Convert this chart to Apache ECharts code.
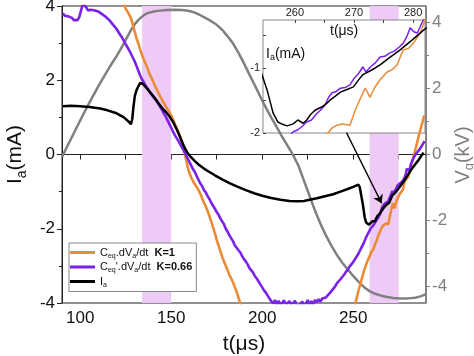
<!DOCTYPE html>
<html><head><meta charset="utf-8">
<script src="https://cdn.jsdelivr.net/npm/echarts@6/dist/echarts.min.js"></script>
<style>html,body{margin:0;padding:0;background:#fff}#c{width:474px;height:356px}</style>
</head><body><div id="c"></div>
<script>
// ---- tick labels ----
const tLabels = [100, 150, 200, 250];
const tTicks = [100, 125, 150, 175, 200, 225, 250, 275];
const insetTLabels = [260, 270, 280];
const insetTTicks = [260, 265, 270, 275, 280];
const insetILabels = [-2, -1];
const insetITicks = [-2, -1.5, -1, -0.5];
// highlighted time windows (µs)
const bands = [[134, 150], [259, 275]];
// arrow from inset to curve [t, Ia]
const arrowFrom = [246.3, 0.59];
const arrowTo = [265.6, -1.31];

// ---- series: [t (µs), value] ----
const ceqK1 = [[122,4.4],[123,4.2],[124,4.05],[125,3.92],[126,3.85],[127,3.76],[128,3.66],[129,3.48],[130,3.30],[131,3.12],[132,2.98],[133,2.82],[134,2.68],[135,2.55],[136,2.44],[137,2.32],[138,2.18],[139,2.08],[140,1.98],[141,1.86],[142,1.76],[143,1.66],[144,1.56],[145,1.47],[146,1.38],[147,1.30],[148,1.22],[149,1.14],[150,1.05],[151,0.94],[152,0.82],[153,0.72],[154,0.60],[155,0.46],[156,0.30],[157,0.10],[158,-0.10],[159,-0.32],[160,-0.50],[161,-0.62],[162,-0.72],[163,-0.80],[164,-0.88],[165,-0.96],[166,-1.06],[167,-1.18],[168,-1.30],[169,-1.40],[170,-1.52],[171,-1.66],[172,-1.80],[173,-1.96],[174,-2.12],[175,-2.30],[176,-2.45],[177,-2.60],[178,-2.75],[179,-2.88],[180,-3.00],[181,-3.12],[182,-3.25],[183,-3.34],[184,-3.45],[185,-3.58],[186,-3.70],[187,-3.86],[188,-4.02],[190,-4.3],[250,-4.3],[251,-4.05],[252,-3.85],[253,-3.65],[254,-3.48],[255,-3.30],[256,-3.12],[257,-2.98],[258,-2.85],[259,-2.74],[260,-2.62],[261,-2.56],[262,-2.42],[263,-2.30],[264,-2.16],[265,-2.04],[265.6,-2.00],[266.3,-1.92],[267.1,-1.88],[268,-1.86],[269.3,-1.88],[270.2,-1.65],[271,-1.48],[271.9,-1.31],[272.7,-1.45],[273.5,-1.30],[274.4,-1.18],[275.6,-1.06],[276.5,-1.02],[277.3,-0.95],[278.3,-0.72],[279.2,-0.70],[280,-0.62],[281.2,-0.46],[282,-0.26],[283,-0.10],[284,0.10],[285,0.30],[286,0.50],[287,0.68],[288,0.86],[289,1.05]];

const ceqK066 = [[90.5,3.80],[91.5,3.74],[92.5,3.78],[93.5,3.72],[94.5,3.75],[95.5,3.68],[96.5,3.62],[97.5,3.57],[98.5,3.62],[99.5,3.70],[100.3,3.85],[101,3.98],[101.8,4.05],[102.6,4.02],[103.5,3.95],[104.3,3.88],[105.2,3.93],[106,3.90],[107,3.94],[108,3.88],[109,3.90],[110,3.85],[111,3.83],[112,3.78],[113,3.76],[114,3.71],[115,3.68],[116,3.62],[117,3.58],[118,3.50],[119,3.45],[120,3.38],[121,3.33],[122,3.22],[123,3.15],[124,3.06],[125,2.97],[126,2.92],[127,2.80],[128,2.70],[129,2.60],[130,2.50],[131,2.38],[132,2.25],[133,2.12],[134,2.02],[135,1.94],[136,1.85],[137,1.78],[138,1.70],[139,1.63],[140,1.56],[141,1.50],[142,1.44],[143,1.36],[144,1.28],[145,1.20],[146,1.10],[147,1.02],[148,0.92],[149,0.82],[150,0.72],[151,0.62],[152,0.52],[153,0.44],[154,0.36],[155,0.27],[156,0.18],[157,0.10],[158,0.00],[159,-0.10],[160,-0.20],[161,-0.30],[162,-0.40],[163,-0.47],[164,-0.58],[165,-0.68],[166,-0.78],[167,-0.85],[168,-0.96],[169,-1.02],[170,-1.12],[171,-1.20],[172,-1.30],[173,-1.38],[174,-1.46],[175,-1.55],[176,-1.62],[177,-1.72],[178,-1.80],[179,-1.88],[180,-2.00],[181,-2.08],[182,-2.18],[183,-2.26],[184,-2.34],[185,-2.45],[186,-2.50],[187,-2.58],[188,-2.64],[189,-2.74],[190,-2.82],[191,-2.88],[192,-2.96],[193,-3.06],[194,-3.12],[195,-3.18],[196,-3.28],[197,-3.34],[198,-3.42],[199,-3.50],[200,-3.58],[201,-3.66],[202,-3.72],[203,-3.80],[204,-3.88],[205,-3.95],[206,-4.02],[207,-3.92],[208,-4.05],[209,-3.94],[210,-4.06],[211,-4.02],[212,-3.93],[213,-4.05],[214,-4.08],[215,-3.95],[216,-4.06],[217,-4.10],[218,-3.94],[219,-4.08],[220,-4.10],[221,-4.04],[222,-3.96],[223,-4.08],[224,-4.02],[225,-3.92],[226,-4.06],[227,-3.95],[228,-4.04],[229,-3.92],[230,-3.98],[231,-3.90],[232,-3.96],[233,-3.88],[234,-3.92],[235,-3.85],[236,-3.80],[237,-3.74],[238,-3.70],[239,-3.62],[240,-3.56],[241,-3.47],[242,-3.42],[243,-3.36],[244,-3.30],[245,-3.24],[246,-3.16],[247,-3.10],[248,-3.02],[249,-2.96],[250,-2.90],[251,-2.82],[252,-2.74],[253,-2.66],[254,-2.56],[255,-2.46],[256,-2.36],[257,-2.24],[258,-2.14],[259,-2.05],[259.7,-1.98],[260.5,-1.95],[261.2,-1.90],[262,-1.83],[262.8,-1.80],[263.5,-1.72],[264.3,-1.65],[265,-1.58],[265.7,-1.45],[266.3,-1.38],[267,-1.36],[267.7,-1.31],[268.5,-1.30],[269.3,-1.26],[270,-1.16],[270.8,-1.08],[271.5,-0.98],[272,-1.06],[272.8,-0.98],[273.6,-0.92],[274.4,-0.83],[275.2,-0.82],[276,-0.77],[276.8,-0.74],[277.6,-0.68],[278.3,-0.62],[279,-0.50],[279.5,-0.38],[280.1,-0.44],[280.7,-0.46],[281.2,-0.36],[281.7,-0.26],[282.5,-0.16],[283.5,-0.06],[284.5,0.02],[285.5,0.08],[286.5,0.14],[287.5,0.22],[288.5,0.30],[289.2,0.36]];

const ia = [[90.5,1.30],[95,1.31],[100,1.30],[105,1.28],[111,1.24],[115,1.19],[120,1.11],[124,1.00],[127,0.87],[127.8,0.81],[128.6,0.95],[129.3,1.30],[130,1.57],[131,1.74],[132,1.84],[133,1.93],[133.8,1.96],[134.5,1.90],[135.5,1.86],[137,1.76],[139,1.64],[141,1.52],[143,1.38],[145,1.25],[147,1.15],[149,1.03],[151,0.88],[153,0.68],[155,0.46],[157,0.22],[159,0.04],[161,-0.08],[163,-0.18],[165,-0.27],[168,-0.38],[171,-0.47],[174,-0.56],[178,-0.67],[182,-0.77],[186,-0.86],[191,-0.96],[196,-1.05],[200,-1.11],[205,-1.17],[210,-1.22],[215,-1.25],[219,-1.26],[223,-1.25],[226,-1.22],[230,-1.18],[235,-1.12],[239,-1.07],[243,-1.00],[247,-0.93],[250,-0.87],[252.8,-0.81],[253.6,-0.88],[254.6,-1.15],[255.3,-1.34],[256.3,-1.69],[257.1,-1.83],[258,-1.87],[258.7,-1.89],[259.7,-1.86],[260.5,-1.80],[261.4,-1.85],[262,-1.80],[262.6,-1.72],[263.4,-1.65],[264.5,-1.60],[265.3,-1.55],[266,-1.49],[267,-1.42],[267.7,-1.37],[268.8,-1.33],[269.9,-1.29],[270.7,-1.19],[271.5,-1.10],[273,-1.03],[274.4,-0.95],[276,-0.84],[277.8,-0.72],[279.8,-0.57],[281.7,-0.42],[284,-0.27],[286,-0.14],[288.6,0.05]];

const vg = [[90,-0.08],[92,0.15],[94,0.37],[96,0.59],[98,0.81],[100,1.03],[102,1.25],[104,1.46],[106,1.67],[108,1.87],[110,2.07],[112,2.26],[114,2.45],[116,2.63],[118,2.81],[120,2.98],[122,3.17],[124,3.37],[126,3.58],[128,3.78],[130,3.95],[132,4.08],[134,4.18],[136,4.26],[138,4.30],[141,4.34],[144,4.36],[148,4.38],[152,4.39],[156,4.38],[160,4.35],[163,4.30],[166,4.22],[169,4.13],[172,4.04],[175,3.93],[178,3.78],[181,3.58],[184,3.36],[187,3.08],[190,2.76],[193,2.42],[196,2.09],[199,1.75],[202,1.42],[205,1.12],[208,0.83],[211,0.53],[214,0.26],[217,-0.02],[220,-0.35],[223,-0.80],[226,-1.25],[229,-1.70],[232,-2.10],[235,-2.45],[238,-2.76],[241,-3.04],[244,-3.28],[247,-3.48],[250,-3.68],[253,-3.86],[256,-4.02],[259,-4.14],[262,-4.22],[265,-4.27],[268,-4.31],[272,-4.35],[276,-4.36],[280,-4.36],[284,-4.34],[287,-4.30],[290,-4.23]];

const FONT = 'Liberation Sans, Arial, sans-serif';
const GRAY = '#808080';
const ORANGE = '#ec8b35';
const PURPLE = '#7b22e8';

const chart = echarts.init(document.getElementById('c'), null, {renderer: 'canvas'});

function nameRich(color, big, small) {
  return {
    m: {fontSize: big, color: color, fill: color, fontFamily: FONT, lineHeight: big + 6},
    s: {fontSize: small, color: color, fill: color, fontFamily: FONT, lineHeight: small, verticalAlign: 'bottom'}
  };
}

const legendNames = {
  ceq: '{m|C}{s|eq}{m|.dV}{s|a}{m|/dt  }{b|K=1}',
  ceqp: "{m|C}{s|eq}{m|'.dV}{s|a}{m|/dt  }{b|K=0.66}",
  ia: '{m|I}{s|a}'
};

const gridBase = {containLabel: false, outerBoundsMode: 'none'};

const option = {
  animation: false,
  backgroundColor: '#fff',
  textStyle: {fontFamily: FONT},
  grid: [
    Object.assign({left: 62, top: 6, right: 48, bottom: 53, show: true, borderColor: '#222', borderWidth: 1, backgroundColor: 'transparent', z: 0}, gridBase),
    Object.assign({left: 263, top: 20, right: 49, bottom: 223, show: true, borderColor: '#888', borderWidth: 1, backgroundColor: '#fff', z: 2}, gridBase),
    // V_g tick/label frame: same pixel scale as the right axis (-4.5..4.5 over the main grid)
    Object.assign({left: 62, top: 22.5, right: 48, bottom: 69.5, show: false}, gridBase)
  ],
  xAxis: [
    {type: 'value', gridIndex: 0, min: 90, max: 290,
     axisLine: {lineStyle: {color: '#222', width: 1}},
     axisTick: {customValues: tTicks, length: 5, lineStyle: {color: '#222'}},
     axisLabel: {customValues: tLabels, fontSize: 17, color: '#111', margin: 7, fontFamily: FONT},
     splitLine: {show: false},
     name: 't(μs)', nameLocation: 'middle', nameGap: 31,
     nameTextStyle: {fontSize: 21, color: '#111', fontFamily: FONT}},
    {type: 'value', gridIndex: 1, min: 254.6, max: 282, position: 'top', z: 4,
     axisLine: {show: false},
     axisTick: {customValues: insetTTicks, inside: true, length: 3, lineStyle: {color: '#444'}},
     axisLabel: {customValues: insetTLabels, fontSize: 11, color: '#222', margin: 2, fontFamily: FONT},
     splitLine: {show: false}},
    {type: 'value', gridIndex: 2, min: 90, max: 290, show: false}
  ],
  yAxis: [
    {type: 'value', gridIndex: 0, min: -4, max: 4, interval: 2, position: 'left',
     axisLine: {show: true, lineStyle: {color: '#222', width: 1}},
     axisTick: {show: true, length: 5, lineStyle: {color: '#222'}},
     minorTick: {show: true, splitNumber: 2, length: 3, lineStyle: {color: '#222'}},
     axisLabel: {fontSize: 17, color: '#111', margin: 7, fontFamily: FONT},
     splitLine: {show: false},
     name: '{m|I}{s|a}{m|(mA)}', nameLocation: 'middle', nameRotate: 90, nameGap: 29,
     nameTextStyle: {rich: nameRich('#111', 21, 14)}},
    {type: 'value', gridIndex: 0, min: -4.5, max: 4.5, position: 'right',
     axisLine: {show: true, lineStyle: {color: GRAY, width: 1.5}},
     axisTick: {show: false}, axisLabel: {show: false}, splitLine: {show: false}},
    {type: 'value', gridIndex: 1, min: -2, max: -0.26, position: 'left', z: 4,
     axisLine: {show: false},
     axisTick: {customValues: insetITicks, inside: true, length: 3, lineStyle: {color: '#444'}},
     axisLabel: {customValues: insetILabels, fontSize: 11, color: '#222', margin: 3, fontFamily: FONT},
     splitLine: {show: false}},
    {type: 'value', gridIndex: 2, min: -4, max: 4, interval: 2, position: 'right',
     axisLine: {show: false},
     axisTick: {show: true, length: 4, lineStyle: {color: GRAY}},
     minorTick: {show: true, splitNumber: 2, length: 3, lineStyle: {color: GRAY}},
     axisLabel: {fontSize: 17, color: GRAY, margin: 6, fontFamily: FONT, hideOverlap: false},
     splitLine: {show: false}}
  ],
  legend: {
    data: ['ceq', 'ceqp', 'ia'], orient: 'vertical', left: 69, top: 243,
    icon: 'rect', itemWidth: 25, itemHeight: 3, itemGap: 2,
    padding: [4, 4, 3, 1], backgroundColor: '#fff', borderColor: '#888', borderWidth: 1,
    selectedMode: false, z: 6,
    formatter: n => legendNames[n],
    textStyle: {fontSize: 11, rich: {
      m: {fontSize: 11, color: '#111', fontFamily: FONT, lineHeight: 14},
      s: {fontSize: 7, color: '#111', fontFamily: FONT, lineHeight: 7, verticalAlign: 'bottom'},
      b: {fontSize: 11, color: '#111', fontWeight: 'bold', fontFamily: FONT, lineHeight: 14}
    }}
  },
  graphic: [
    {type: 'text', left: 330, top: 24, z: 10, style: {text: 't(μs)', fontSize: 14, fill: '#111', font: '14px ' + FONT}},
    {type: 'text', left: 266, top: 47, z: 10, style: {
      text: '{m|I}{s|a}{m|(mA)}', fill: '#111',
      rich: {m: {fontSize: 14, fontFamily: FONT, fill: '#111', lineHeight: 17}, s: {fontSize: 9, fontFamily: FONT, fill: '#111', lineHeight: 9, verticalAlign: 'bottom'}}
    }},
    // right axis title V_g(kV), reading bottom to top
    {type: 'text', x: 463, y: 155, rotation: Math.PI / 2, z: 10, style: {
      text: '{m|V}{s|g}{m|(kV)}', align: 'center', verticalAlign: 'middle',
      rich: nameRich(GRAY, 20, 13)
    }}
  ],
  series: [
    {name: 'bands', type: 'line', xAxisIndex: 0, yAxisIndex: 0, data: [], z: 1, silent: true,
     markArea: {silent: true, itemStyle: {color: '#eecaf6'},
       data: bands.map(b => [{xAxis: b[0]}, {xAxis: b[1]}])}},
    {name: 'vg', type: 'line', xAxisIndex: 0, yAxisIndex: 1, data: vg, showSymbol: false, z: 3,
     lineStyle: {color: GRAY, width: 2.5}, itemStyle: {color: GRAY}},
    {name: 'ceq', type: 'line', xAxisIndex: 0, yAxisIndex: 0, data: ceqK1, showSymbol: false, z: 3,
     lineStyle: {color: ORANGE, width: 2.6}, itemStyle: {color: ORANGE}},
    {name: 'ceqp', type: 'line', xAxisIndex: 0, yAxisIndex: 0, data: ceqK066, showSymbol: false, z: 3,
     lineStyle: {color: PURPLE, width: 2.6}, itemStyle: {color: PURPLE}},
    {name: 'ia', type: 'line', xAxisIndex: 0, yAxisIndex: 0, data: ia, showSymbol: false, z: 3,
     lineStyle: {color: '#000', width: 2.5}, itemStyle: {color: '#000'},
     markLine: {silent: true, symbol: ['none', 'arrow'], symbolSize: 8, label: {show: false},
       lineStyle: {color: '#000', width: 1.3, type: 'solid'},
       data: [[{coord: arrowFrom}, {coord: arrowTo}]]}},
    {name: 'ceq_in', type: 'line', xAxisIndex: 1, yAxisIndex: 2, data: ceqK1, showSymbol: false, z: 4,
     lineStyle: {color: ORANGE, width: 1.5}},
    {name: 'ceqp_in', type: 'line', xAxisIndex: 1, yAxisIndex: 2, data: ceqK066, showSymbol: false, z: 4,
     lineStyle: {color: PURPLE, width: 1.5}},
    {name: 'ia_in', type: 'line', xAxisIndex: 1, yAxisIndex: 2, data: ia, showSymbol: false, z: 4,
     lineStyle: {color: '#000', width: 1.5}}
  ]
};
chart.setOption(option);
</script></body></html>
